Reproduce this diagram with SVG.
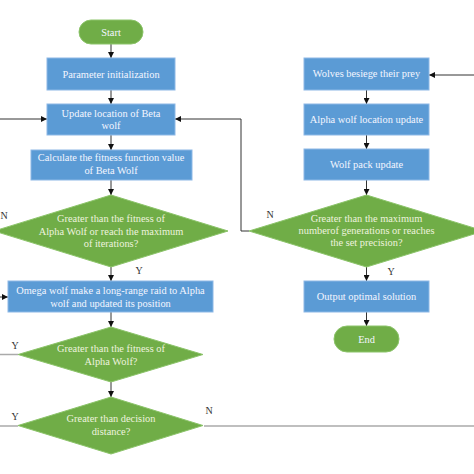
<svg xmlns="http://www.w3.org/2000/svg" width="474" height="474" viewBox="0 0 474 474">
<defs>
<style>
.box{fill:#5b9bd5;stroke:#8db8e6;stroke-width:1}
.term{fill:#70ad47;stroke:#8cc46a;stroke-width:1}
.dia{fill:#70ad47;stroke:#8cc46a;stroke-width:1}
.t{font-family:"Liberation Serif",serif;font-size:10.4px;fill:#f4f6ff;text-anchor:middle}
.td{font-family:"Liberation Serif",serif;font-size:10.4px;fill:#eef3df;text-anchor:middle}
.lbl{font-family:"Liberation Serif",serif;font-size:10px;fill:#333;text-anchor:middle}
.c{fill:none;stroke:#333;stroke-width:1}
.g{fill:none;stroke:#aaaaaa;stroke-width:1.5}
</style>
<marker id="ah" viewBox="0 0 6 6" refX="6" refY="3" markerWidth="6" markerHeight="6" orient="auto" markerUnits="userSpaceOnUse">
<path d="M0,0 L6,3 L0,6 Z" fill="#111"/>
</marker>
</defs>
<rect width="474" height="474" fill="#ffffff"/>
<g id="connectors">
<line class="c" x1="111" y1="44" x2="111" y2="58" marker-end="url(#ah)"/>
<line class="c" x1="111" y1="90" x2="111" y2="104" marker-end="url(#ah)"/>
<line class="c" x1="111" y1="135" x2="111" y2="150" marker-end="url(#ah)"/>
<line class="c" x1="111" y1="180" x2="111" y2="195" marker-end="url(#ah)"/>
<line class="c" x1="111" y1="267" x2="111" y2="281" marker-end="url(#ah)"/>
<line class="c" x1="111" y1="312" x2="111" y2="327" marker-end="url(#ah)"/>
<line class="c" x1="111" y1="382" x2="111" y2="397" marker-end="url(#ah)"/>
<line class="c" x1="366.5" y1="90" x2="366.5" y2="104" marker-end="url(#ah)"/>
<line class="c" x1="366.5" y1="135" x2="366.5" y2="149" marker-end="url(#ah)"/>
<line class="c" x1="366.5" y1="180" x2="366.5" y2="195" marker-end="url(#ah)"/>
<line class="c" x1="366.5" y1="267" x2="366.5" y2="281" marker-end="url(#ah)"/>
<line class="c" x1="366.5" y1="312" x2="366.5" y2="326" marker-end="url(#ah)"/>
<line class="c" x1="0" y1="119" x2="47" y2="119" marker-end="url(#ah)"/>
<polyline class="c" points="249,231 241,231 241,119 175,119" marker-end="url(#ah)"/>
<line class="c" x1="474" y1="75" x2="429" y2="75" marker-end="url(#ah)"/>
<line class="c" x1="0" y1="297" x2="8" y2="297" marker-end="url(#ah)"/>
<line class="g" x1="0" y1="354.5" x2="18" y2="354.5"/>
<line class="g" x1="0" y1="426" x2="18" y2="426"/>
<line class="g" x1="204" y1="426" x2="474" y2="426"/>
</g>
<g id="start"><rect class="term" x="79" y="20" width="64" height="24" rx="12"/><text class="t" x="111" y="35.5">Start</text></g>
<g id="param"><rect class="box" x="47" y="58" width="128" height="32"/><text class="t" x="111" y="77.5">Parameter initialization</text></g>
<g id="updateBeta"><rect class="box" x="47" y="104" width="128" height="31"/><text class="t" x="111" y="116.5">Update location of Beta</text><text class="t" x="111" y="129">wolf</text></g>
<g id="calcFitness"><rect class="box" x="31" y="150" width="161" height="30"/><text class="t" x="111" y="160.5">Calculate the fitness function value</text><text class="t" x="111" y="173.5">of Beta Wolf</text></g>
<g id="dec1"><polygon class="dia" points="111,195 228,231 111,267 -6,231"/><text class="td" x="111" y="221.5">Greater than the fitness of</text><text class="td" x="111" y="234.5">Alpha Wolf or reach the maximum</text><text class="td" x="111" y="246.5">of iterations?</text></g>
<text class="lbl" x="4" y="219">N</text>
<text class="lbl" x="139" y="274">Y</text>
<g id="omega"><rect class="box" x="8" y="281" width="205" height="31"/><text class="t" x="110.5" y="293.5">Omega wolf make a long-range raid to Alpha</text><text class="t" x="110.5" y="306.5">wolf and updated its position</text></g>
<g id="dec2"><polygon class="dia" points="111,327 203,354.5 111,382 18,354.5"/><text class="td" x="111" y="351.5">Greater than the fitness of</text><text class="td" x="111" y="364.5">Alpha Wolf?</text></g>
<text class="lbl" x="15" y="349">Y</text>
<g id="dec3"><polygon class="dia" points="111,397 203,425.5 111,454 18,425.5"/><text class="td" x="111" y="421.5">Greater than decision</text><text class="td" x="111" y="434.5">distance?</text></g>
<text class="lbl" x="15" y="420">Y</text>
<text class="lbl" x="209" y="414">N</text>
<g id="besiege"><rect class="box" x="304" y="58" width="125" height="32"/><text class="t" x="366.5" y="77">Wolves besiege their prey</text></g>
<g id="alphaUpdate"><rect class="box" x="304" y="104" width="125" height="31"/><text class="t" x="366.5" y="122.5">Alpha wolf location update</text></g>
<g id="packUpdate"><rect class="box" x="304" y="149" width="125" height="31"/><text class="t" x="366.5" y="168">Wolf pack update</text></g>
<g id="dec4"><polygon class="dia" points="366.5,195 484,231 366.5,267 249,231"/><text class="td" x="366.5" y="221.5">Greater than the maximum</text><text class="td" x="366.5" y="233.5">numberof generations or reaches</text><text class="td" x="366.5" y="245.5">the set precision?</text></g>
<text class="lbl" x="270" y="218">N</text>
<text class="lbl" x="391" y="275">Y</text>
<g id="output"><rect class="box" x="304" y="281" width="125" height="31"/><text class="t" x="366.5" y="299.5">Output optimal solution</text></g>
<g id="end"><rect class="term" x="334" y="326" width="65" height="26" rx="13"/><text class="t" x="366.5" y="342.5">End</text></g>
</svg>
